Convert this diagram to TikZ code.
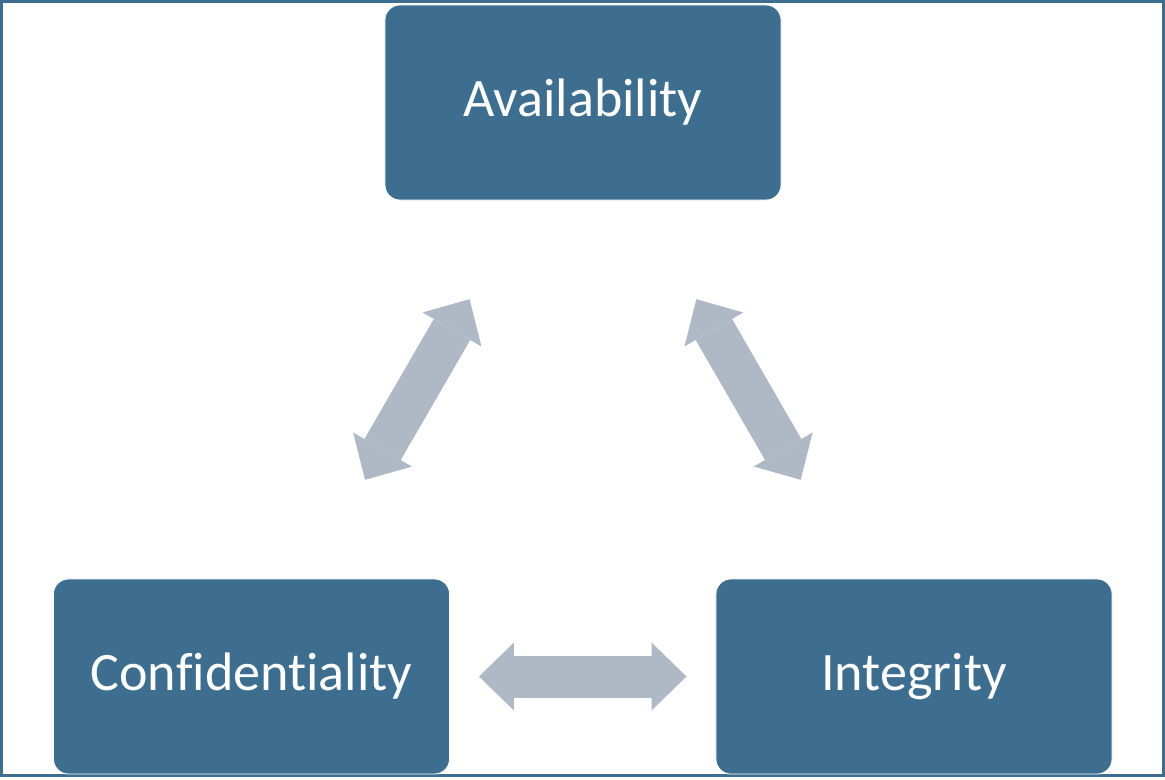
\documentclass[tikz,border=0pt]{standalone}
\usepackage{fontspec}
\setmainfont[Ligatures={NoCommon}]{Carlito}
\usepackage{xcolor}
\usepackage{tikz}
\usetikzlibrary{arrows.meta}

\definecolor{pillarblue}{RGB}{61,110,143}
\definecolor{linkgray}{RGB}{175,185,198}

\begin{document}
\begin{tikzpicture}[x=0.025cm, y=-0.025cm,
   pillar/.style={rectangle, rounded corners=0.375cm, fill=pillarblue, draw=white, line width=0.6pt,
      minimum width=9.9cm, minimum height=4.875cm, inner sep=0pt, text=white,
      font=\fontsize{38.5}{46}\selectfont},
   link/.style={draw=linkgray, line width=1.05cm,
      {Triangle[length=0.875cm, width=1.7cm, line width=0pt]}-{Triangle[length=0.875cm, width=1.7cm, line width=0pt]}}]
   			\useasboundingbox (0,0) rectangle (1165,779);
   			\draw[pillarblue, line width=0.075cm] (1.5,1.5) rectangle (1163.5,775);
   			
   			\foreach \x/\y/\name/\label in {
   				583/102.5/avail/Availability,
   				251.5/676.5/conf/Confidentiality,
   				914/676.5/integ/Integrity
   			}{
   				\node[pillar] (\name) at (\x,\y) {\label};
   			}
   			
   			\draw[link, shorten <=2.85cm, shorten >=2.85cm] (conf) -- (avail);
   			\draw[link, shorten <=2.85cm, shorten >=2.85cm] (avail) -- (integ);
   			\draw[link, shorten <=0.725cm, shorten >=0.725cm] (conf) -- (integ);
   		\end{tikzpicture}
\end{document}
